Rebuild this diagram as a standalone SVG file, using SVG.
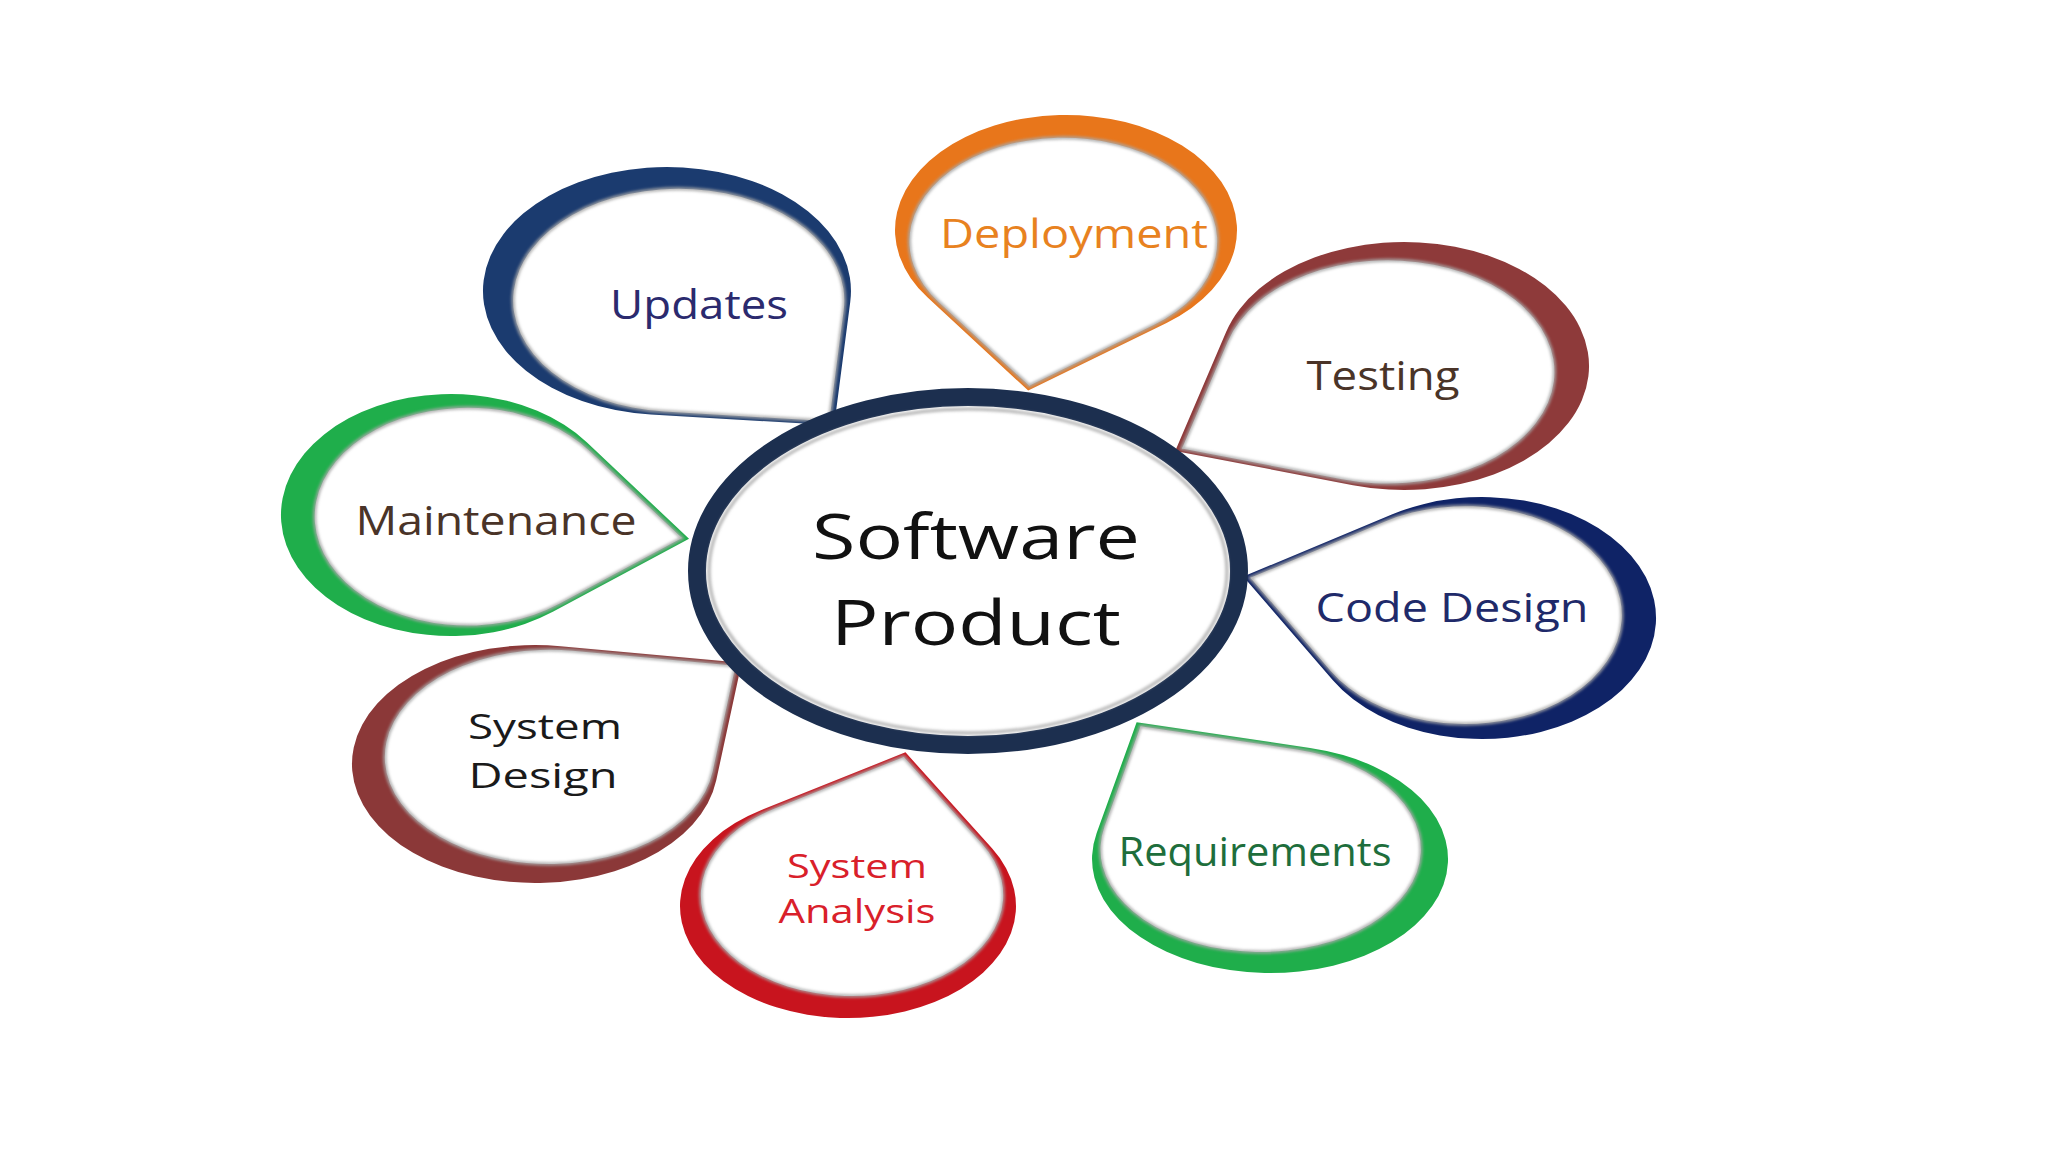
<svg xmlns="http://www.w3.org/2000/svg" xmlns:xlink="http://www.w3.org/1999/xlink" width="2048" height="1152" viewBox="0 0 2048 1152">
<style>
  text { font-family: "Open Sans", "Noto Sans", "DejaVu Sans", sans-serif; text-anchor: middle; }
  .lbl { font-size: 40px; }
  .two { font-size: 32px; }
  .two-b { font-size: 35px; }
  .center { font-size: 63px; fill: #111111; }
  .shade { fill: none; stroke: #a8a8a8; stroke-width: 3; }
  .white { fill: #ffffff; }
</style>
<defs>
  <path id="po" d="M 1.414 0 L 0.707 0.707 A 1 1 0 1 1 0.707 -0.707 Z"/>
  <path id="pi" d="M 1.372 0 L 0.736 0.636 A 0.9 0.9 0 1 1 0.736 -0.636 Z" vector-effect="non-scaling-stroke"/>
  <filter id="soft" x="-10%" y="-10%" width="120%" height="120%">
    <feGaussianBlur stdDeviation="1.6"/>
  </filter>
</defs>
<rect width="2048" height="1152" fill="#ffffff"/>

<g id="connectors"></g>

<g id="updates">
  <use xlink:href="#po" fill="#1b3b6f" transform="translate(667,291) scale(184,124) rotate(50)"/>
  <use xlink:href="#pi" class="white" transform="translate(667,291) scale(184,124) rotate(50)"/>
  <g filter="url(#soft)"><use xlink:href="#pi" class="shade" transform="translate(667,291) scale(184,124) rotate(50)"/></g>
  <text class="lbl" x="699" y="319" fill="#2b2a6e" textLength="178" lengthAdjust="spacingAndGlyphs">Updates</text>
</g>

<g id="deployment">
  <use xlink:href="#po" fill="#e8761b" transform="translate(1066,230) scale(171,115) rotate(99)"/>
  <use xlink:href="#pi" class="white" transform="translate(1066,230) scale(171,115) rotate(99)"/>
  <g filter="url(#soft)"><use xlink:href="#pi" class="shade" transform="translate(1066,230) scale(171,115) rotate(99)"/></g>
  <text class="lbl" x="1074" y="248" fill="#e8821f" textLength="268" lengthAdjust="spacingAndGlyphs">Deployment</text>
</g>

<g id="testing">
  <use xlink:href="#po" fill="#8e3a3a" transform="translate(1404,366) scale(185,124) rotate(151)"/>
  <use xlink:href="#pi" class="white" transform="translate(1404,366) scale(185,124) rotate(151)"/>
  <g filter="url(#soft)"><use xlink:href="#pi" class="shade" transform="translate(1404,366) scale(185,124) rotate(151)"/></g>
  <text class="lbl" x="1383" y="390" fill="#4a3428" textLength="153" lengthAdjust="spacingAndGlyphs">Testing</text>
</g>

<g id="code-design">
  <use xlink:href="#po" fill="#0f2366" transform="translate(1482,618) scale(174,121) rotate(194)"/>
  <use xlink:href="#pi" class="white" transform="translate(1482,618) scale(174,121) rotate(194)"/>
  <g filter="url(#soft)"><use xlink:href="#pi" class="shade" transform="translate(1482,618) scale(174,121) rotate(194)"/></g>
  <text class="lbl" x="1452" y="622" fill="#1f2a6a" textLength="273" lengthAdjust="spacingAndGlyphs">Code Design</text>
</g>

<g id="requirements">
  <use xlink:href="#po" fill="#1fae4b" transform="translate(1270,859) scale(178,114) rotate(238)"/>
  <use xlink:href="#pi" class="white" transform="translate(1270,859) scale(178,114) rotate(238)"/>
  <g filter="url(#soft)"><use xlink:href="#pi" class="shade" transform="translate(1270,859) scale(178,114) rotate(238)"/></g>
  <text class="lbl" x="1255" y="866" fill="#1e6e3c" textLength="273" lengthAdjust="spacingAndGlyphs">Requirements</text>
</g>

<g id="system-analysis">
  <use xlink:href="#po" fill="#c8141e" transform="translate(848,906) scale(168,112) rotate(284)"/>
  <use xlink:href="#pi" class="white" transform="translate(848,906) scale(168,112) rotate(284)"/>
  <g filter="url(#soft)"><use xlink:href="#pi" class="shade" transform="translate(848,906) scale(168,112) rotate(284)"/></g>
  <text class="two" x="857" y="878" fill="#d9202a" textLength="140" lengthAdjust="spacingAndGlyphs">System</text>
  <text class="two" x="857" y="923" fill="#d9202a" textLength="157" lengthAdjust="spacingAndGlyphs">Analysis</text>
</g>

<g id="system-design">
  <use xlink:href="#po" fill="#8b3838" transform="translate(535,764) scale(183,119) rotate(-37)"/>
  <use xlink:href="#pi" class="white" transform="translate(535,764) scale(183,119) rotate(-37)"/>
  <g filter="url(#soft)"><use xlink:href="#pi" class="shade" transform="translate(535,764) scale(183,119) rotate(-37)"/></g>
  <text class="two-b" x="545" y="739" fill="#1a1a1a" textLength="154" lengthAdjust="spacingAndGlyphs">System</text>
  <text class="two-b" x="543" y="788" fill="#1a1a1a" textLength="149" lengthAdjust="spacingAndGlyphs">Design</text>
</g>

<g id="maintenance">
  <use xlink:href="#po" fill="#1fae4b" transform="translate(451,515) scale(170,121) rotate(8)"/>
  <use xlink:href="#pi" class="white" transform="translate(451,515) scale(170,121) rotate(8)"/>
  <g filter="url(#soft)"><use xlink:href="#pi" class="shade" transform="translate(451,515) scale(170,121) rotate(8)"/></g>
  <text class="lbl" x="496" y="535" fill="#4a3428" textLength="281" lengthAdjust="spacingAndGlyphs">Maintenance</text>
</g>

<g id="software-product">
  <ellipse cx="968" cy="571" rx="271" ry="174" fill="#ffffff" stroke="#1c2f4f" stroke-width="18"/>
  <g filter="url(#soft)"><ellipse cx="968" cy="571" rx="259" ry="162" fill="none" stroke="#b0b0b0" stroke-width="3"/></g>
  <text class="center" x="976" y="559" textLength="328" lengthAdjust="spacingAndGlyphs">Software</text>
  <text class="center" x="976" y="645" textLength="290" lengthAdjust="spacingAndGlyphs">Product</text>
</g>
</svg>
